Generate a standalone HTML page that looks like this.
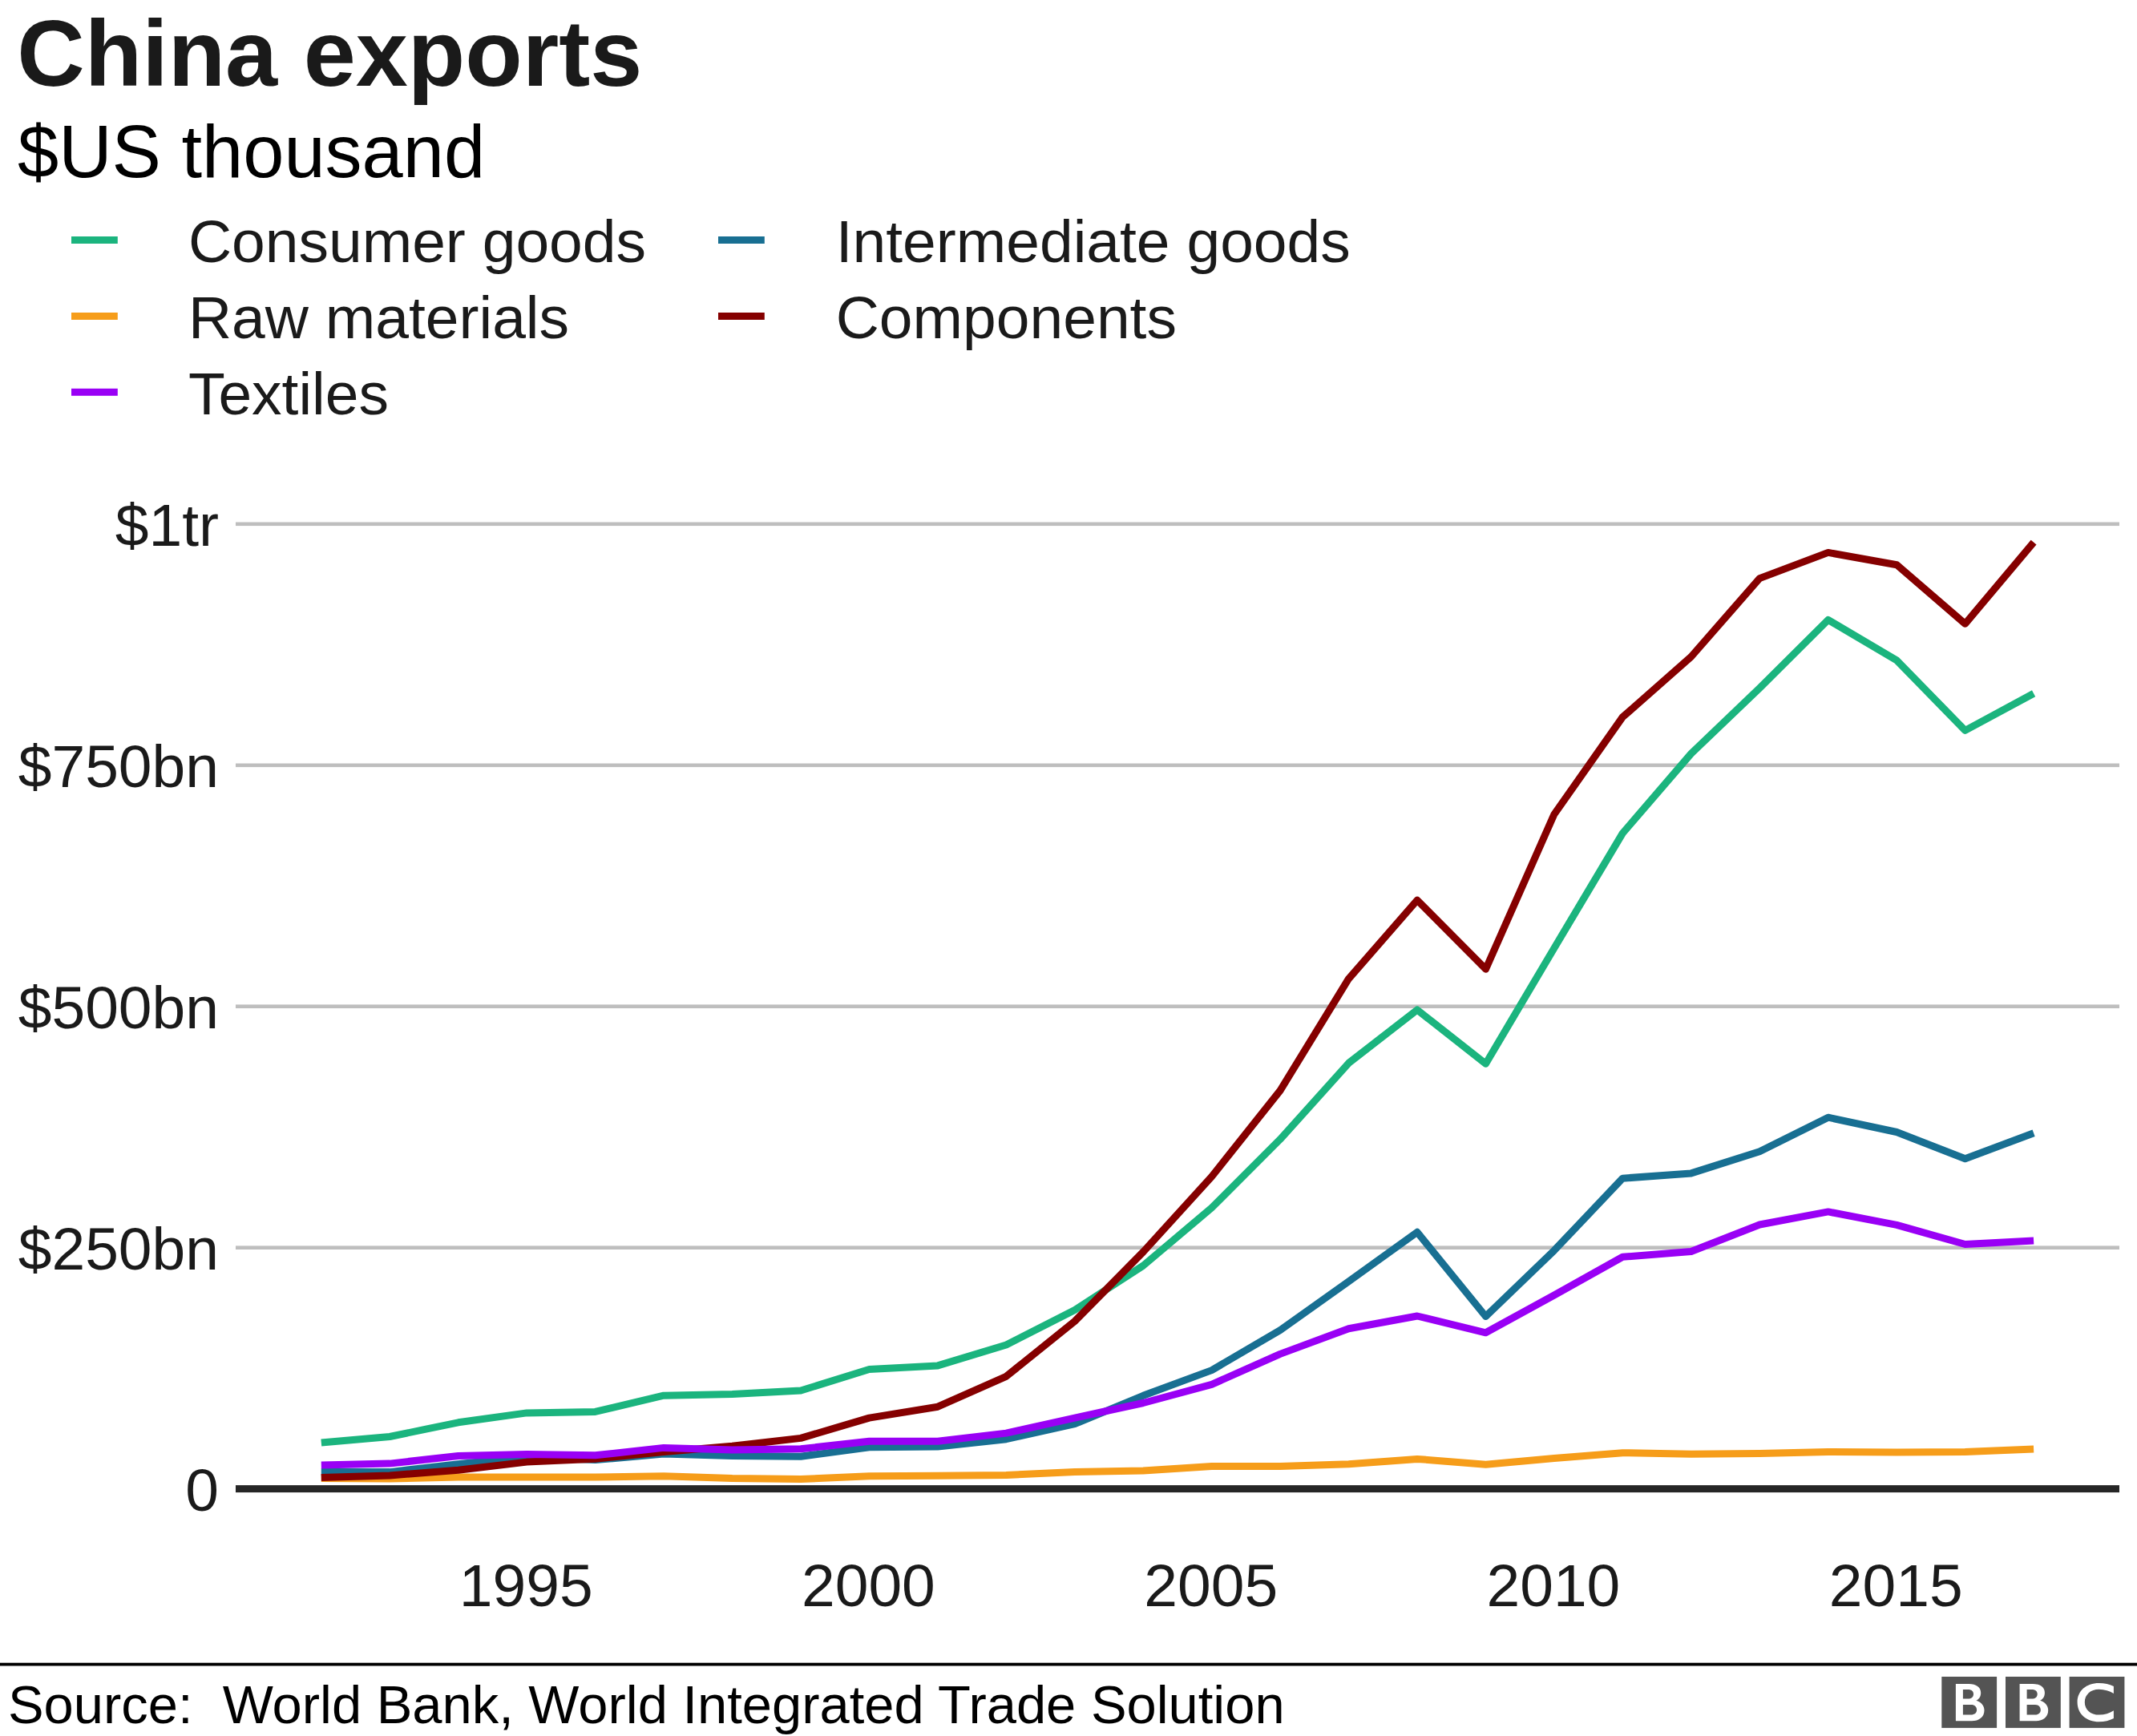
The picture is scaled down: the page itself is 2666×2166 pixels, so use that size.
<!DOCTYPE html>
<html><head><meta charset="utf-8"><title>China exports</title>
<style>html,body{margin:0;padding:0;background:#fff;}body{width:2666px;height:2166px;overflow:hidden;}svg{display:block;}text{font-family:"Liberation Sans",sans-serif;}</style>
</head><body>
<svg width="2666" height="2166" viewBox="0 0 2666 2166">
<rect x="0" y="0" width="2666" height="2166" fill="#ffffff"/>
<g id="header">
<text x="21.2" y="107.2" font-size="117" font-weight="bold" fill="#1a1a1a">China exports</text>
<text x="22" y="220.9" font-size="92" fill="#000000">$US thousand</text>
</g>
<g id="legend">
<rect x="89.0" y="295.0" width="57.8" height="9" fill="#1BB47E"/>
<text x="234.9" y="326.7" font-size="75" fill="#1a1a1a">Consumer goods</text>
<rect x="89.0" y="390.0" width="57.8" height="9" fill="#F69D1A"/>
<text x="234.9" y="421.8" font-size="75" fill="#1a1a1a">Raw materials</text>
<rect x="89.0" y="484.8" width="57.8" height="9" fill="#9900F5"/>
<text x="234.9" y="516.7" font-size="75" fill="#1a1a1a">Textiles</text>
<rect x="896.0" y="295.0" width="57.8" height="9" fill="#186F92"/>
<text x="1042.7" y="326.7" font-size="75" fill="#1a1a1a">Intermediate goods</text>
<rect x="896.0" y="390.0" width="57.8" height="9" fill="#850000"/>
<text x="1042.7" y="421.8" font-size="75" fill="#1a1a1a">Components</text>
</g>
<g id="gridlines">
<rect x="294" y="651.5" width="2350" height="4.6" fill="#BEBEBE"/>
<rect x="294" y="952.5" width="2350" height="4.6" fill="#BEBEBE"/>
<rect x="294" y="1253.4" width="2350" height="4.6" fill="#BEBEBE"/>
<rect x="294" y="1554.4" width="2350" height="4.6" fill="#BEBEBE"/>
</g>
<g id="y-axis-labels">
<text x="273" y="681.2" font-size="75" text-anchor="end" fill="#1a1a1a">$1tr</text>
<text x="273" y="982.2" font-size="75" text-anchor="end" fill="#1a1a1a">$750bn</text>
<text x="273" y="1283.1" font-size="75" text-anchor="end" fill="#1a1a1a">$500bn</text>
<text x="273" y="1584.1" font-size="75" text-anchor="end" fill="#1a1a1a">$250bn</text>
<text x="273" y="1885.2" font-size="75" text-anchor="end" fill="#1a1a1a">0</text>
</g>
<rect x="294" y="1853.1" width="2350" height="9" fill="#262626"/>
<g id="series">
<polyline points="400.8,1800.1 486.2,1792.5 571.7,1774.8 657.2,1762.9 742.6,1761.4 828.0,1741.2 913.5,1739.5 999.0,1735.0 1084.4,1708.5 1169.9,1703.9 1255.3,1678.0 1340.8,1634.5 1426.2,1579.1 1511.7,1506.9 1597.1,1421.4 1682.5,1326.4 1768.0,1260.0 1853.5,1327.2 1938.9,1183.0 2024.3,1039.6 2109.8,940.3 2195.2,858.4 2280.7,773.4 2366.2,823.8 2451.6,911.4 2537.1,865.3" fill="none" stroke="#1BB47E" stroke-width="9.0" stroke-linejoin="round" stroke-linecap="butt"/>
<polyline points="400.8,1844.6 486.2,1845.1 571.7,1843.0 657.2,1843.0 742.6,1843.0 828.0,1841.8 913.5,1844.6 999.0,1845.5 1084.4,1841.7 1169.9,1841.2 1255.3,1840.4 1340.8,1836.6 1426.2,1835.1 1511.7,1829.5 1597.1,1829.5 1682.5,1826.7 1768.0,1820.4 1853.5,1827.2 1938.9,1819.6 2024.3,1812.7 2109.8,1814.2 2195.2,1813.4 2280.7,1811.5 2366.2,1811.9 2451.6,1811.5 2537.1,1808.0" fill="none" stroke="#F69D1A" stroke-width="9.0" stroke-linejoin="round" stroke-linecap="butt"/>
<polyline points="400.8,1836.6 486.2,1836.6 571.7,1826.6 657.2,1817.8 742.6,1821.6 828.0,1814.0 913.5,1816.5 999.0,1817.2 1084.4,1805.8 1169.9,1805.0 1255.3,1795.7 1340.8,1776.7 1426.2,1741.3 1511.7,1709.6 1597.1,1659.7 1682.5,1598.9 1768.0,1537.3 1853.5,1642.5 1938.9,1560.2 2024.3,1470.2 2109.8,1463.9 2195.2,1436.8 2280.7,1394.2 2366.2,1412.5 2451.6,1445.7 2537.1,1413.8" fill="none" stroke="#186F92" stroke-width="9.0" stroke-linejoin="round" stroke-linecap="butt"/>
<polyline points="400.8,1843.5 486.2,1841.0 571.7,1834.2 657.2,1824.1 742.6,1820.3 828.0,1811.5 913.5,1804.2 999.0,1794.4 1084.4,1769.1 1169.9,1755.2 1255.3,1717.3 1340.8,1648.5 1426.2,1562.0 1511.7,1468.0 1597.1,1360.6 1682.5,1221.2 1768.0,1123.1 1853.5,1209.2 1938.9,1016.0 2024.3,894.7 2109.8,819.4 2195.2,721.6 2280.7,689.4 2366.2,704.7 2451.6,778.3 2537.1,676.7" fill="none" stroke="#850000" stroke-width="9.0" stroke-linejoin="round" stroke-linecap="butt"/>
<polyline points="400.8,1827.9 486.2,1826.1 571.7,1816.5 657.2,1814.5 742.6,1815.8 828.0,1806.4 913.5,1808.9 999.0,1807.8 1084.4,1798.2 1169.9,1798.2 1255.3,1788.1 1340.8,1769.1 1426.2,1750.5 1511.7,1727.4 1597.1,1689.4 1682.5,1657.7 1768.0,1642.0 1853.5,1662.8 1938.9,1616.0 2024.3,1568.3 2109.8,1561.5 2195.2,1528.0 2280.7,1511.9 2366.2,1528.4 2451.6,1552.5 2537.1,1547.9" fill="none" stroke="#9900F5" stroke-width="9.0" stroke-linejoin="round" stroke-linecap="butt"/>
</g>
<g id="x-axis-labels">
<text x="656.2" y="2004.4" font-size="75" text-anchor="middle" fill="#1a1a1a">1995</text>
<text x="1083.4" y="2004.4" font-size="75" text-anchor="middle" fill="#1a1a1a">2000</text>
<text x="1510.7" y="2004.4" font-size="75" text-anchor="middle" fill="#1a1a1a">2005</text>
<text x="1937.9" y="2004.4" font-size="75" text-anchor="middle" fill="#1a1a1a">2010</text>
<text x="2365.2" y="2004.4" font-size="75" text-anchor="middle" fill="#1a1a1a">2015</text>
</g>
<g id="footer">
<rect x="0" y="2074.7" width="2666" height="3.8" fill="#000000"/>
<text x="10" y="2149.7" font-size="66.9" fill="#000000" xml:space="preserve" style="white-space:pre">Source:  World Bank, World Integrated Trade Solution</text>
<g transform="translate(2422.3,2092)"><rect x="0" y="0" width="68.8" height="63.9" fill="#545454"/><path d="M17.6,9.0 H34 C43,9.0 48.9,13 48.9,20 C48.9,25 46.5,28.3 43,29.8 C49,31.5 53.2,36 53.2,42 C53.2,50.5 46.5,55.3 37.5,55.3 H17.6 Z M26.6,16.1 V27.6 H32.8 C37,27.6 39.7,25.5 39.7,21.8 C39.7,18.2 37,16.1 33,16.1 Z M26.6,35 V47.5 H36.5 C41,47.5 43.8,45.3 43.8,41.5 C43.8,37.5 41,35 37,35 Z" fill="#ffffff" fill-rule="evenodd"/></g>
<g transform="translate(2502.0,2092)"><rect x="0" y="0" width="68.8" height="63.9" fill="#545454"/><path d="M17.6,9.0 H34 C43,9.0 48.9,13 48.9,20 C48.9,25 46.5,28.3 43,29.8 C49,31.5 53.2,36 53.2,42 C53.2,50.5 46.5,55.3 37.5,55.3 H17.6 Z M26.6,16.1 V27.6 H32.8 C37,27.6 39.7,25.5 39.7,21.8 C39.7,18.2 37,16.1 33,16.1 Z M26.6,35 V47.5 H36.5 C41,47.5 43.8,45.3 43.8,41.5 C43.8,37.5 41,35 37,35 Z" fill="#ffffff" fill-rule="evenodd"/></g>
<g transform="translate(2581.6,2092)"><rect x="0" y="0" width="68.8" height="63.9" fill="#545454"/><path d="M55.3,12.1 C50,9.6 44,8.1 36.9,8.1 C21,8.1 10,17.8 10,31.9 C10,46 21,56.2 36.9,56.2 C44,56.2 50,54.5 55.3,51.9 V42.2 C50,45.5 44,47.6 37.4,47.6 C26.5,47.6 19.2,41 19.2,31.9 C19.2,22.5 26.5,15.8 36.9,15.8 C44,15.8 50,17.9 55.3,20.9 Z" fill="#ffffff" fill-rule="evenodd"/></g>
</g>
</svg>
</body></html>
